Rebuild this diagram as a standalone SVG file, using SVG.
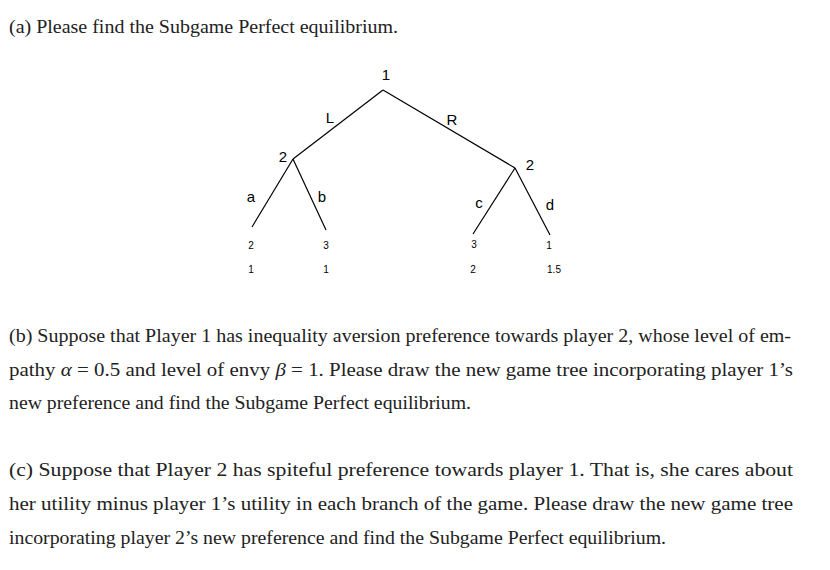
<svg xmlns="http://www.w3.org/2000/svg" width="830" height="570" viewBox="0 0 830 570">
<style>
.t{font-family:"Liberation Serif",serif;font-size:19px;fill:#222}
.n{font-family:"Liberation Sans",sans-serif;font-size:15px;fill:#000;text-anchor:middle}
.p{font-family:"Liberation Sans",sans-serif;font-size:10px;fill:#000;text-anchor:middle}
.e{stroke:#000;stroke-width:1.2;fill:none}
</style>
<rect width="830" height="570" fill="#fff"/>
<text class="t" x="9" y="33" textLength="389" lengthAdjust="spacingAndGlyphs">(a) Please find the Subgame Perfect equilibrium.</text>
<g id="connectors">
<line class="e" x1="383" y1="90" x2="293" y2="159"/>
<line class="e" x1="383" y1="90" x2="515" y2="168"/>
<line class="e" x1="293" y1="159" x2="252" y2="227"/>
<line class="e" x1="293" y1="159" x2="326" y2="230"/>
<line class="e" x1="515" y1="168" x2="473" y2="234"/>
<line class="e" x1="515" y1="168" x2="550" y2="235"/>
<text class="n" x="330" y="123">L</text>
<text class="n" x="452" y="125">R</text>
<text class="n" x="251" y="202">a</text>
<text class="n" x="322" y="202">b</text>
<text class="n" x="479" y="208">c</text>
<text class="n" x="550" y="210">d</text>
</g>
<g id="root"><text class="n" x="386" y="80">1</text></g>
<g id="p2left"><text class="n" x="283" y="162">2</text></g>
<g id="p2right"><text class="n" x="530" y="170">2</text></g>
<g id="leafa"><text class="p" x="251" y="249">2</text><text class="p" x="251" y="273">1</text></g>
<g id="leafb"><text class="p" x="326" y="249">3</text><text class="p" x="326" y="273">1</text></g>
<g id="leafc"><text class="p" x="474" y="248">3</text><text class="p" x="473" y="273">2</text></g>
<g id="leafd"><text class="p" x="549" y="249">1</text><text class="p" x="554" y="273">1.5</text></g>
<text class="t" x="9" y="342" textLength="782" lengthAdjust="spacingAndGlyphs">(b) Suppose that Player 1 has inequality aversion preference towards player 2, whose level of em-</text>
<text class="t" x="9" y="376" textLength="784" lengthAdjust="spacingAndGlyphs">pathy <tspan font-style="italic">α</tspan> = 0.5 and level of envy <tspan font-style="italic">β</tspan> = 1. Please draw the new game tree incorporating player 1’s</text>
<text class="t" x="9" y="409" textLength="462" lengthAdjust="spacingAndGlyphs">new preference and find the Subgame Perfect equilibrium.</text>
<text class="t" x="9" y="476" textLength="784" lengthAdjust="spacingAndGlyphs">(c) Suppose that Player 2 has spiteful preference towards player 1.  That is, she cares about</text>
<text class="t" x="9" y="510" textLength="784" lengthAdjust="spacingAndGlyphs">her utility minus player 1’s utility in each branch of the game. Please draw the new game tree</text>
<text class="t" x="9" y="544" textLength="657" lengthAdjust="spacingAndGlyphs">incorporating player 2’s new preference and find the Subgame Perfect equilibrium.</text>
</svg>
